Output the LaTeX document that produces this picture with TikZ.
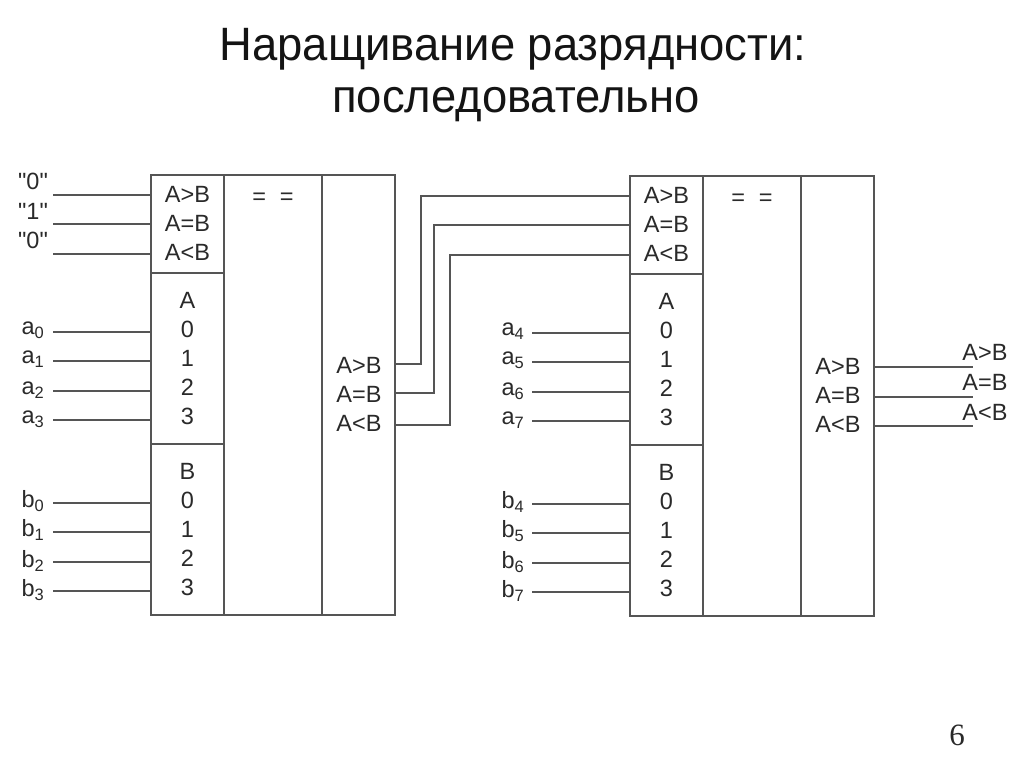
\documentclass[tikz,border=0pt]{standalone}
\usepackage{fontspec}
\setmainfont{Liberation Sans}
\newfontfamily\serifnum{Liberation Serif}
\newfontfamily\plainsans{Liberation Sans}
\newfontfamily\titlefont[FakeStretch=0.97]{Liberation Sans}
\definecolor{wire}{HTML}{555555}
\definecolor{ink}{HTML}{2A2A2A}
\definecolor{titleink}{HTML}{141414}
\tikzset{
  cell/.style={draw=wire,line width=1.3pt,minimum width=#1,inner sep=0pt,outer sep=0pt,anchor=north west},
  lab/.style={inner sep=0pt,text=ink,font=\plainsans\fontsize{23.5}{23.5}\selectfont},
  pin/.style={inner sep=0pt,text=ink,font=\fontsize{23.5}{23.5}\selectfont,anchor=center},
  conn/.style={draw=wire,line width=1.3pt},
  titletext/.style={inner sep=0pt,text=titleink,anchor=base,font=\titlefont\fontsize{46.8}{46.8}\selectfont}
}
\begin{document}
\begin{tikzpicture}[x=1pt,y=-1pt]
\useasboundingbox (0,0) rectangle (1024,767);
\fill[white] (0,0) rectangle (1024,767);
\node[titletext] (t1) at (513,61) {Наращивание разрядности:};
\node[titletext] (t2) at (516,113) {последовательно};
\node[inner sep=0pt,text=ink,font=\serifnum\fontsize{31}{31}\selectfont] (pg) at (957,735) {6};
% blocks
\foreach \P/\X/\Y/\qa/\qb/\qc in {L/151/175/189/218/250,R/630/176/191/221/250}{
  \begin{scope}[shift={(\X,\Y)}]
    \node[cell=73pt,minimum height=98pt] (\P cmp) at (0,0) {};
    \node[cell=73pt,minimum height=171pt] (\P a) at (0,98) {};
    \node[cell=73pt,minimum height=171pt] (\P b) at (0,269) {};
    \node[cell=98pt,minimum height=440pt] (\P mid) at (73,0) {};
    \node[cell=73pt,minimum height=440pt] (\P out) at (171,0) {};
    \node[pin] (\P c1) at (36.5,19.5) {A>B};
    \node[pin] (\P c2) at (36.5,48.5) {A=B};
    \node[pin] (\P c3) at (36.5,77.5) {A<B};
    \node[pin] (\P eq) at (122,24) {=\hspace{14pt}=};
    \node[pin] (\P ah) at (36.5,125) {A};
    \node[pin] (\P a0) at (36.5,154) {0};
    \node[pin] (\P a1) at (36.5,183) {1};
    \node[pin] (\P a2) at (36.5,212) {2};
    \node[pin] (\P a3) at (36.5,241) {3};
    \node[pin] (\P bh) at (36.5,296) {B};
    \node[pin] (\P b0) at (36.5,325) {0};
    \node[pin] (\P b1) at (36.5,354) {1};
    \node[pin] (\P b2) at (36.5,383) {2};
    \node[pin] (\P b3) at (36.5,412) {3};
    \node[pin] (\P o1) at (208,190) {A>B};
    \node[pin] (\P o2) at (208,219) {A=B};
    \node[pin] (\P o3) at (208,248) {A<B};
    % pin coordinates on block edges
    \coordinate (\P i1) at (0,20);
    \coordinate (\P i2) at (0,49);
    \coordinate (\P i3) at (0,79);
    \coordinate (\P ia0) at (0,157);
    \coordinate (\P ia1) at (0,186);
    \coordinate (\P ia2) at (0,216);
    \coordinate (\P ia3) at (0,245);
    \coordinate (\P ib0) at (0,328);
    \coordinate (\P ib1) at (0,357);
    \coordinate (\P ib2) at (0,387);
    \coordinate (\P ib3) at (0,416);
    \coordinate (\P q1) at (244,\qa);
    \coordinate (\P q2) at (244,\qb);
    \coordinate (\P q3) at (244,\qc);
  \end{scope}
}
% left constants
\node[lab] (k0) at (33,181) {"0"};
\node[lab] (k1) at (33,211) {"1"};
\node[lab] (k2) at (33,240) {"0"};
\foreach \i in {1,2,3}{
  \draw[conn] (53,0 |- Li\i) -- (Li\i);
}
% data inputs, both blocks
\foreach \P/\S/\x/\e/\ff/\sf/\tf/\ef in {L/a/33/53/0/1/2/3,L/b/33/53/0/1/2/3,R/a/513/532/4/5/6/7,R/b/513/532/4/5/6/7}{
  \foreach \k/\s/\dy in {0/\ff/-2,1/\sf/-2,2/\tf/-1,3/\ef/-1}{
    \path (\P i\S\k) ++(0,\dy) coordinate (tmp);
    \node[lab] (\P\S n\k) at (\x,0 |- tmp) {\S\textsubscript{\s}};
    \draw[conn] (\e,0 |- \P i\S\k) -- (\P i\S\k);
  }
}
% links between blocks
\draw[conn] (Lq1) -- (421,0 |- Lq1) -- (421,0 |- Ri1) -- (Ri1);
\draw[conn] (Lq2) -- (434,0 |- Lq2) -- (434,0 |- Ri2) -- (Ri2);
\draw[conn] (Lq3) -- (450,0 |- Lq3) -- (450,0 |- Ri3) -- (Ri3);
% outputs of right block
\foreach \i/\txt/\y in {1/A>B/352,2/A=B/382,3/A<B/412}{
  \node[lab] (Rx\i) at (985,\y) {\txt};
  \coordinate (Re\i) at (973,0 |- Rq\i);
  \draw[conn] (Rq\i) -- (Re\i);
}
\end{tikzpicture}
\end{document}
